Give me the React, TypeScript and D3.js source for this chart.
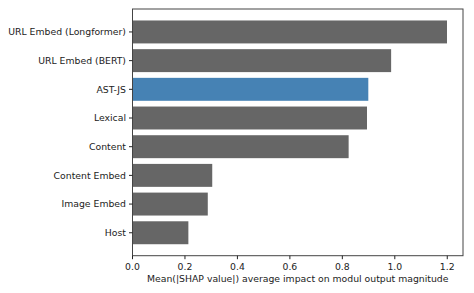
import React from 'react'
import * as d3 from 'd3'

const features = ['URL Embed (Longformer)', 'URL Embed (BERT)', 'AST-JS', 'Lexical', 'Content', 'Content Embed', 'Image Embed', 'Host']
const shapValues = [1.199, 0.986, 0.899, 0.894, 0.824, 0.304, 0.287, 0.213]
const highlighted = ['AST-JS']
const xTicks = [0.0, 0.2, 0.4, 0.6, 0.8, 1.0, 1.2]

const W = 474, H = 293
const left = 132.5, right = 463, top = 9, bottom = 255.7
const font = 'DejaVu Sans, sans-serif'
const fs = 9.3

export default function App() {
  const x = d3.scaleLinear().domain([0, 1.26]).range([left, right])
  // matplotlib style y-limits: -0.8 .. n-0.2
  const y = d3.scaleLinear().domain([-0.8, features.length - 0.2]).range([top, bottom])
  const barH = y(0.4) - y(-0.4)

  return (
    <svg width={W} height={H} style={{ position: 'absolute', left: 0, top: 0 }}>
      <rect width={W} height={H} fill="#fff" />
      {features.map((f, i) => (
        <rect key={f}
          x={x(0)} y={y(i) - barH / 2}
          width={x(shapValues[i]) - x(0)} height={barH}
          fill={highlighted.includes(f) ? '#4682b4' : '#666666'} />
      ))}
      <rect x={left} y={top} width={right - left} height={bottom - top}
        fill="none" stroke="#444" strokeWidth={1} />
      {features.map((f, i) => (
        <g key={'yt' + f}>
          <line x1={left - 3.5} x2={left} y1={y(i)} y2={y(i)} stroke="#222" />
          <text x={left - 6.5} y={y(i)} dy="0.35em" textAnchor="end"
            fontFamily={font} fontSize={fs} fill="#222">{f}</text>
        </g>
      ))}
      {xTicks.map(t => (
        <g key={'xt' + t}>
          <line x1={x(t)} x2={x(t)} y1={bottom} y2={bottom + 3.5} stroke="#222" />
          <text x={x(t)} y={bottom + 14} textAnchor="middle"
            fontFamily={font} fontSize={fs} fill="#222">{t.toFixed(1)}</text>
        </g>
      ))}
      <text x={(left + right) / 2} y={bottom + 26} textAnchor="middle"
        fontFamily={font} fontSize={fs} fill="#222">
        Mean(|SHAP value|) average impact on modul output magnitude
      </text>
    </svg>
  )
}
